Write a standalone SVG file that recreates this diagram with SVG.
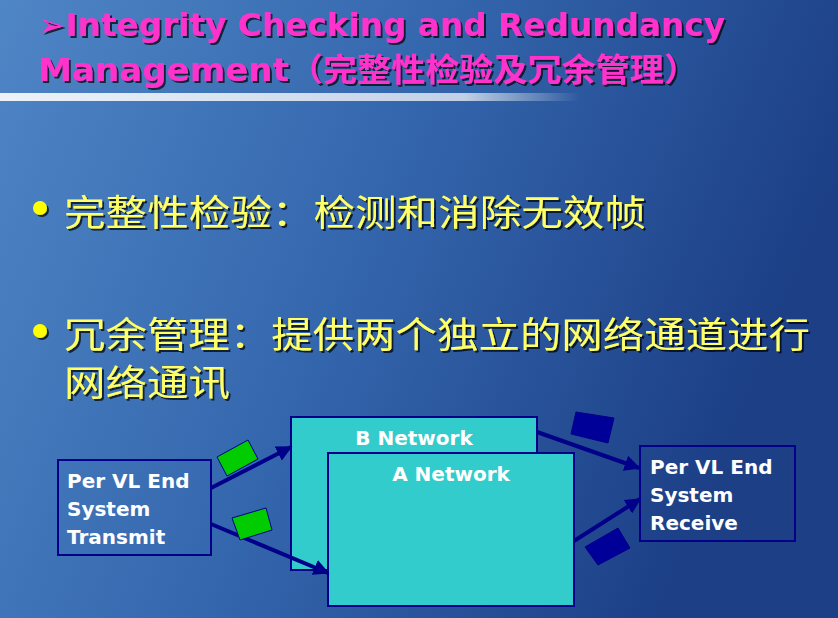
<svg xmlns="http://www.w3.org/2000/svg" width="838" height="618" viewBox="0 0 838 618">
<defs>
<linearGradient id="bg" x1="0" y1="0" x2="1" y2="0.3">
<stop offset="0" stop-color="#4f86c6"/><stop offset="0.5" stop-color="#3466ad"/><stop offset="1" stop-color="#1c3f86"/>
</linearGradient>
<linearGradient id="bar" x1="0" y1="0" x2="1" y2="0">
<stop offset="0" stop-color="#ffffff" stop-opacity="0.9"/><stop offset="0.8" stop-color="#ffffff" stop-opacity="0.7"/><stop offset="1" stop-color="#ffffff" stop-opacity="0"/>
</linearGradient>
<marker id="ah" viewBox="0 0 10 10" refX="9" refY="5" markerWidth="4" markerHeight="4" orient="auto"><path d="M0,0L10,5L0,10z" fill="#00008b"/></marker>
<filter id="sh"><feDropShadow dx="2" dy="2" stdDeviation="0.5" flood-color="#000" flood-opacity="0.7"/></filter>
</defs>
<style>
.t{font-family:"DejaVu Sans","Noto Sans CJK SC",sans-serif;font-weight:bold;fill:#ff33cc;font-size:32px}
.b{font-family:"Noto Sans CJK SC",sans-serif;fill:#ffff66;font-size:36px}
.n{font-family:"DejaVu Sans",sans-serif;font-weight:bold;fill:#fff;font-size:20px}
.box{stroke:#000088;stroke-width:2}
.c{stroke:#000088;stroke-width:4;fill:none;marker-end:url(#ah)}
</style>
<rect width="838" height="618" fill="url(#bg)"/>
<rect x="0" y="93" width="580" height="8" fill="url(#bar)"/>
<g filter="url(#sh)">
<text class="t" x="38" y="36" textLength="687" lengthAdjust="spacingAndGlyphs">➢Integrity Checking and Redundancy</text>
<text class="t" x="38" y="81" textLength="660" lengthAdjust="spacingAndGlyphs">Management（完整性检验及冗余管理）</text>
<circle cx="40" cy="208" r="7" fill="#ffff00"/>
<text class="b" x="64" y="226" textLength="582" lengthAdjust="spacingAndGlyphs">完整性检验：检测和消除无效帧</text>
<circle cx="40" cy="331" r="7" fill="#ffff00"/>
<text class="b" x="64" y="348" textLength="746" lengthAdjust="spacingAndGlyphs">冗余管理：提供两个独立的网络通道进行</text>
<text class="b" x="64" y="396" textLength="166" lengthAdjust="spacingAndGlyphs">网络通讯</text>
</g>
<g id="transmit"><rect class="box" x="58" y="460" width="153" height="95" fill="none"/>
<text class="n" x="67" y="488">Per VL End</text><text class="n" x="67" y="516">System</text><text class="n" x="67" y="544">Transmit</text></g>
<g id="bnet"><rect class="box" x="291" y="417" width="246" height="153" fill="#33cccc"/>
<text class="n" x="414" y="445" text-anchor="middle">B Network</text></g>
<g id="anet"><rect class="box" x="328" y="453" width="246" height="153" fill="#33cccc"/>
<text class="n" x="451" y="481" text-anchor="middle">A Network</text></g>
<g id="receive"><rect class="box" x="640" y="446" width="155" height="95" fill="none"/>
<text class="n" x="650" y="474">Per VL End</text><text class="n" x="650" y="502">System</text><text class="n" x="650" y="530">Receive</text></g>
<g id="connectors">
<line class="c" x1="211" y1="488" x2="291" y2="447"/>
<line class="c" x1="211" y1="524" x2="328" y2="573"/>
<line class="c" x1="537" y1="432" x2="639" y2="468"/>
<line class="c" x1="574" y1="541" x2="640" y2="499"/>
</g>
<g id="frames" stroke="#000088" stroke-width="1">
<polygon points="217,457 248,440 258,459 227,476" fill="#00cc00"/>
<polygon points="232,518 266,508 272,530 240,540" fill="#00cc00"/>
<polygon points="576,412 614,418 608,443 571,434" fill="#000099"/>
<polygon points="585,547 618,528 630,548 598,565" fill="#000099"/>
</g>
</svg>
